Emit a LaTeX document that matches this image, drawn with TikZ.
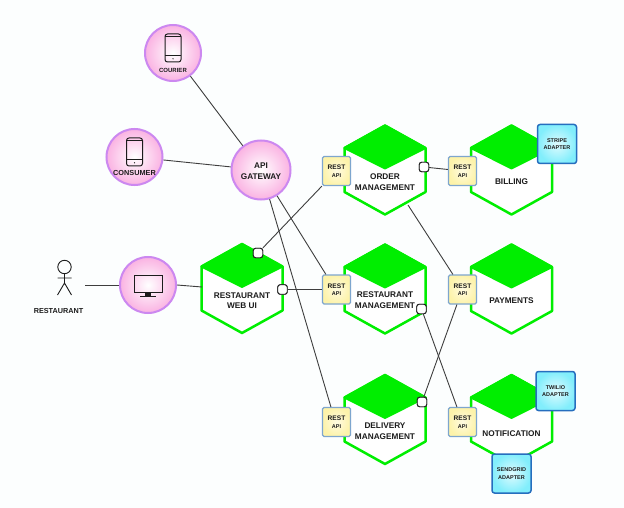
\documentclass[tikz,border=0pt]{standalone}
\usepackage{fontspec}
\setmainfont{Liberation Sans}
\usetikzlibrary{calc}
\definecolor{hexgreen}{RGB}{0,238,0}
\definecolor{circedge}{RGB}{204,136,240}
\definecolor{circfill}{RGB}{250,178,226}
\definecolor{restedge}{RGB}{126,166,206}
\definecolor{restfill}{RGB}{253,243,170}
\definecolor{adaptedge}{RGB}{38,110,190}
\definecolor{adaptfill}{RGB}{130,238,252}
\definecolor{ink}{RGB}{28,28,28}
\definecolor{paper}{RGB}{252,254,254}
\tikzset{
  x=1pt,y=-1pt,
  link/.style={draw=ink!85,line width=0.9pt},
  lbl/.style={font=\bfseries\fontsize{8.25}{10.5}\selectfont,text=ink,align=center,inner sep=0pt},
  person/.style={circle,draw=circedge,line width=2pt,minimum size=56pt,inner sep=0pt,inner color=white,outer color=circfill},
  hexbox/.style={minimum width=82pt,minimum height=90pt,inner sep=0pt},
  rest/.style={draw=restedge,line width=1.2pt,rounded corners=1.5pt,minimum width=28pt,minimum height=29pt,inner sep=0pt,
    inner color=restfill!35,outer color=restfill,align=center,font=\bfseries\fontsize{6.6}{8.5}\selectfont,text=ink},
  adapter/.style={draw=adaptedge,line width=1.5pt,rounded corners=2.5pt,minimum width=39pt,minimum height=39pt,inner sep=0pt,
    inner color=adaptfill!25,outer color=adaptfill,align=center,font=\bfseries\fontsize{5.5}{7.2}\selectfont,text=ink},
  port/.style={draw=ink,fill=white,line width=0.9pt,rounded corners=2.5pt,minimum size=9.5pt,inner sep=0pt},
  icon/.style={draw=ink,line width=1pt},
  small/.style={font=\bfseries\fontsize{6}{7}\selectfont,text=ink,inner sep=0pt}
}
\newcommand{\hexagonbox}[3]{%
  \node[hexbox] (#1) at (#2) {};
  \draw[line width=2.5pt,draw=hexgreen,fill=white,line join=round]
    ($(#1)+(0,-44.5)$) -- ($(#1)+(40.5,-22)$) -- ($(#1)+(40.5,22)$) -- ($(#1)+(0,44.5)$)
    -- ($(#1)+(-40.5,22)$) -- ($(#1)+(-40.5,-22)$) -- cycle;
  \fill[hexgreen,draw=hexgreen,line width=2pt,line join=round]
    ($(#1)+(0,-44.5)$) -- ($(#1)+(40.5,-22)$) -- ($(#1)+(0,-1.5)$) -- ($(#1)+(-40.5,-22)$) -- cycle;
  \node[lbl] (#1text) at ($(#1)+(0,#3)$) {\hexlabel};
}
\newcommand{\hexlabel}{}
\newcommand{\phoneicon}[1]{%
  \draw[icon,rounded corners=2.5pt] ($(#1)+(-8,-19)$) rectangle ($(#1)+(8,9)$);
  \draw[icon] ($(#1)+(-8,-16.5)$) -- ($(#1)+(8,-16.5)$);
  \draw[icon] ($(#1)+(-8,2.5)$) -- ($(#1)+(8,2.5)$);
  \fill[ink] ($(#1)+(0,5.8)$) circle (0.7);
}
\begin{document}
\begin{tikzpicture}
\useasboundingbox (0,0) rectangle (624,508);
\fill[paper] (0,0) rectangle (624,508);

% circles
\node[person] (courier) at (173,53) {};
\node[person] (consumer) at (134.5,157) {};
\node[person,minimum size=59pt] (gateway) at (261,170) {};
\node[person] (monitor) at (148,285) {};

% hexagons
\renewcommand{\hexlabel}{ORDER\\MANAGEMENT}\hexagonbox{order}{385,170}{12}
\renewcommand{\hexlabel}{BILLING}\hexagonbox{billing}{511.5,170}{12}
\renewcommand{\hexlabel}{RESTAURANT\\WEB UI}\hexagonbox{webui}{242,288.5}{12}
\renewcommand{\hexlabel}{RESTAURANT\\MANAGEMENT}\hexagonbox{restaurant}{385,289}{11}
\renewcommand{\hexlabel}{PAYMENTS}\hexagonbox{payments}{511.5,289}{12}
\renewcommand{\hexlabel}{DELIVERY\\MANAGEMENT}\hexagonbox{delivery}{385,419.5}{11.5}
\renewcommand{\hexlabel}{NOTIFICATION}\hexagonbox{notification}{511.5,419.5}{14.5}

% REST boxes
\node[rest] (r1) at (336.5,171) {REST\\[-1pt]{\fontsize{5.5}{7}\selectfont API}};
\node[rest] (r2) at (462.5,171) {REST\\[-1pt]{\fontsize{5.5}{7}\selectfont API}};
\node[rest] (r3) at (336.5,289.5) {REST\\[-1pt]{\fontsize{5.5}{7}\selectfont API}};
\node[rest] (r4) at (462.5,289.5) {REST\\[-1pt]{\fontsize{5.5}{7}\selectfont API}};
\node[rest] (r5) at (336.5,422) {REST\\[-1pt]{\fontsize{5.5}{7}\selectfont API}};
\node[rest] (r6) at (462.5,422) {REST\\[-1pt]{\fontsize{5.5}{7}\selectfont API}};

% adapters
\node[adapter] (stripe) at (557,144) {STRIPE\\ADAPTER};
\node[adapter] (twilio) at (555.5,391) {TWILIO\\ADAPTER};
\node[adapter] (sendgrid) at (511.5,473.5) {SENDGRID\\ADAPTER};

% ports
\node[port] (p1) at (424,167) {};
\node[port] (p2) at (258,253) {};
\node[port] (p3) at (282.5,289.5) {};
\node[port] (p4) at (421.5,309) {};
\node[port] (p5) at (422,402) {};

% free ends on hexagon edges and actor
\coordinate (orderfoot) at ($(order)+(23,35)$);
\coordinate (actorhand) at (85,285);

% connectors
\draw[link] (courier) -- (gateway);
\draw[link] (consumer) -- (gateway);
\draw[link] (actorhand) -- (monitor);
\draw[link] (monitor.east) -- ($(webui)+(-40,-1.5)$) coordinate (webleft);
\draw[link] (gateway) -- ($(r3.north west)+(4,0)$);
\draw[link] (gateway) -- ($(r5.north west)+(9,0)$);
\draw[link] (p2) -- (r1.south west);
\draw[link] (p3) -- (r3);
\draw[link] (p1) -- (r2);
\draw[link] (orderfoot) -- ($(r4.north west)+(5,0)$);
\draw[link] (p4) -- ($(r6.north west)+(9,0)$);
\draw[link] (p5) -- ($(r4.south west)+(9,0)$);

% redraw nodes over connectors
\node[port] at (p1) {};
\node[port] at (p2) {};
\node[port] at (p3) {};
\node[port] at (p4) {};
\node[port] at (p5) {};

% icons
\phoneicon{courier}
\node[small] (couriertext) at (173,70) {COURIER};
\phoneicon{consumer}
\node[small,font=\bfseries\fontsize{7.3}{8}\selectfont] (consumertext) at (134.5,173) {CONSUMER};
\node[lbl] (gatewaytext) at (261,171) {API\\GATEWAY};

% monitor icon
\draw[icon] (134.5,275.5) rectangle (162,292.5);
\fill[ink] (145,292.5) rectangle (151,296.5);
\draw[ink,line width=1pt] (140,296.7) -- (156,296.7);

% actor
\draw[icon,line width=0.9pt] (64.5,267) circle (6.7);
\draw[icon,line width=0.9pt] (64.5,273.7) -- (64.5,283) (57.5,278) -- (71.5,278)
  (64.5,283) -- (57.5,295) (64.5,283) -- (71.5,295);
\node[small,font=\bfseries\fontsize{7.25}{8}\selectfont] (actortext) at (58.5,311) {RESTAURANT};
\end{tikzpicture}
\end{document}
